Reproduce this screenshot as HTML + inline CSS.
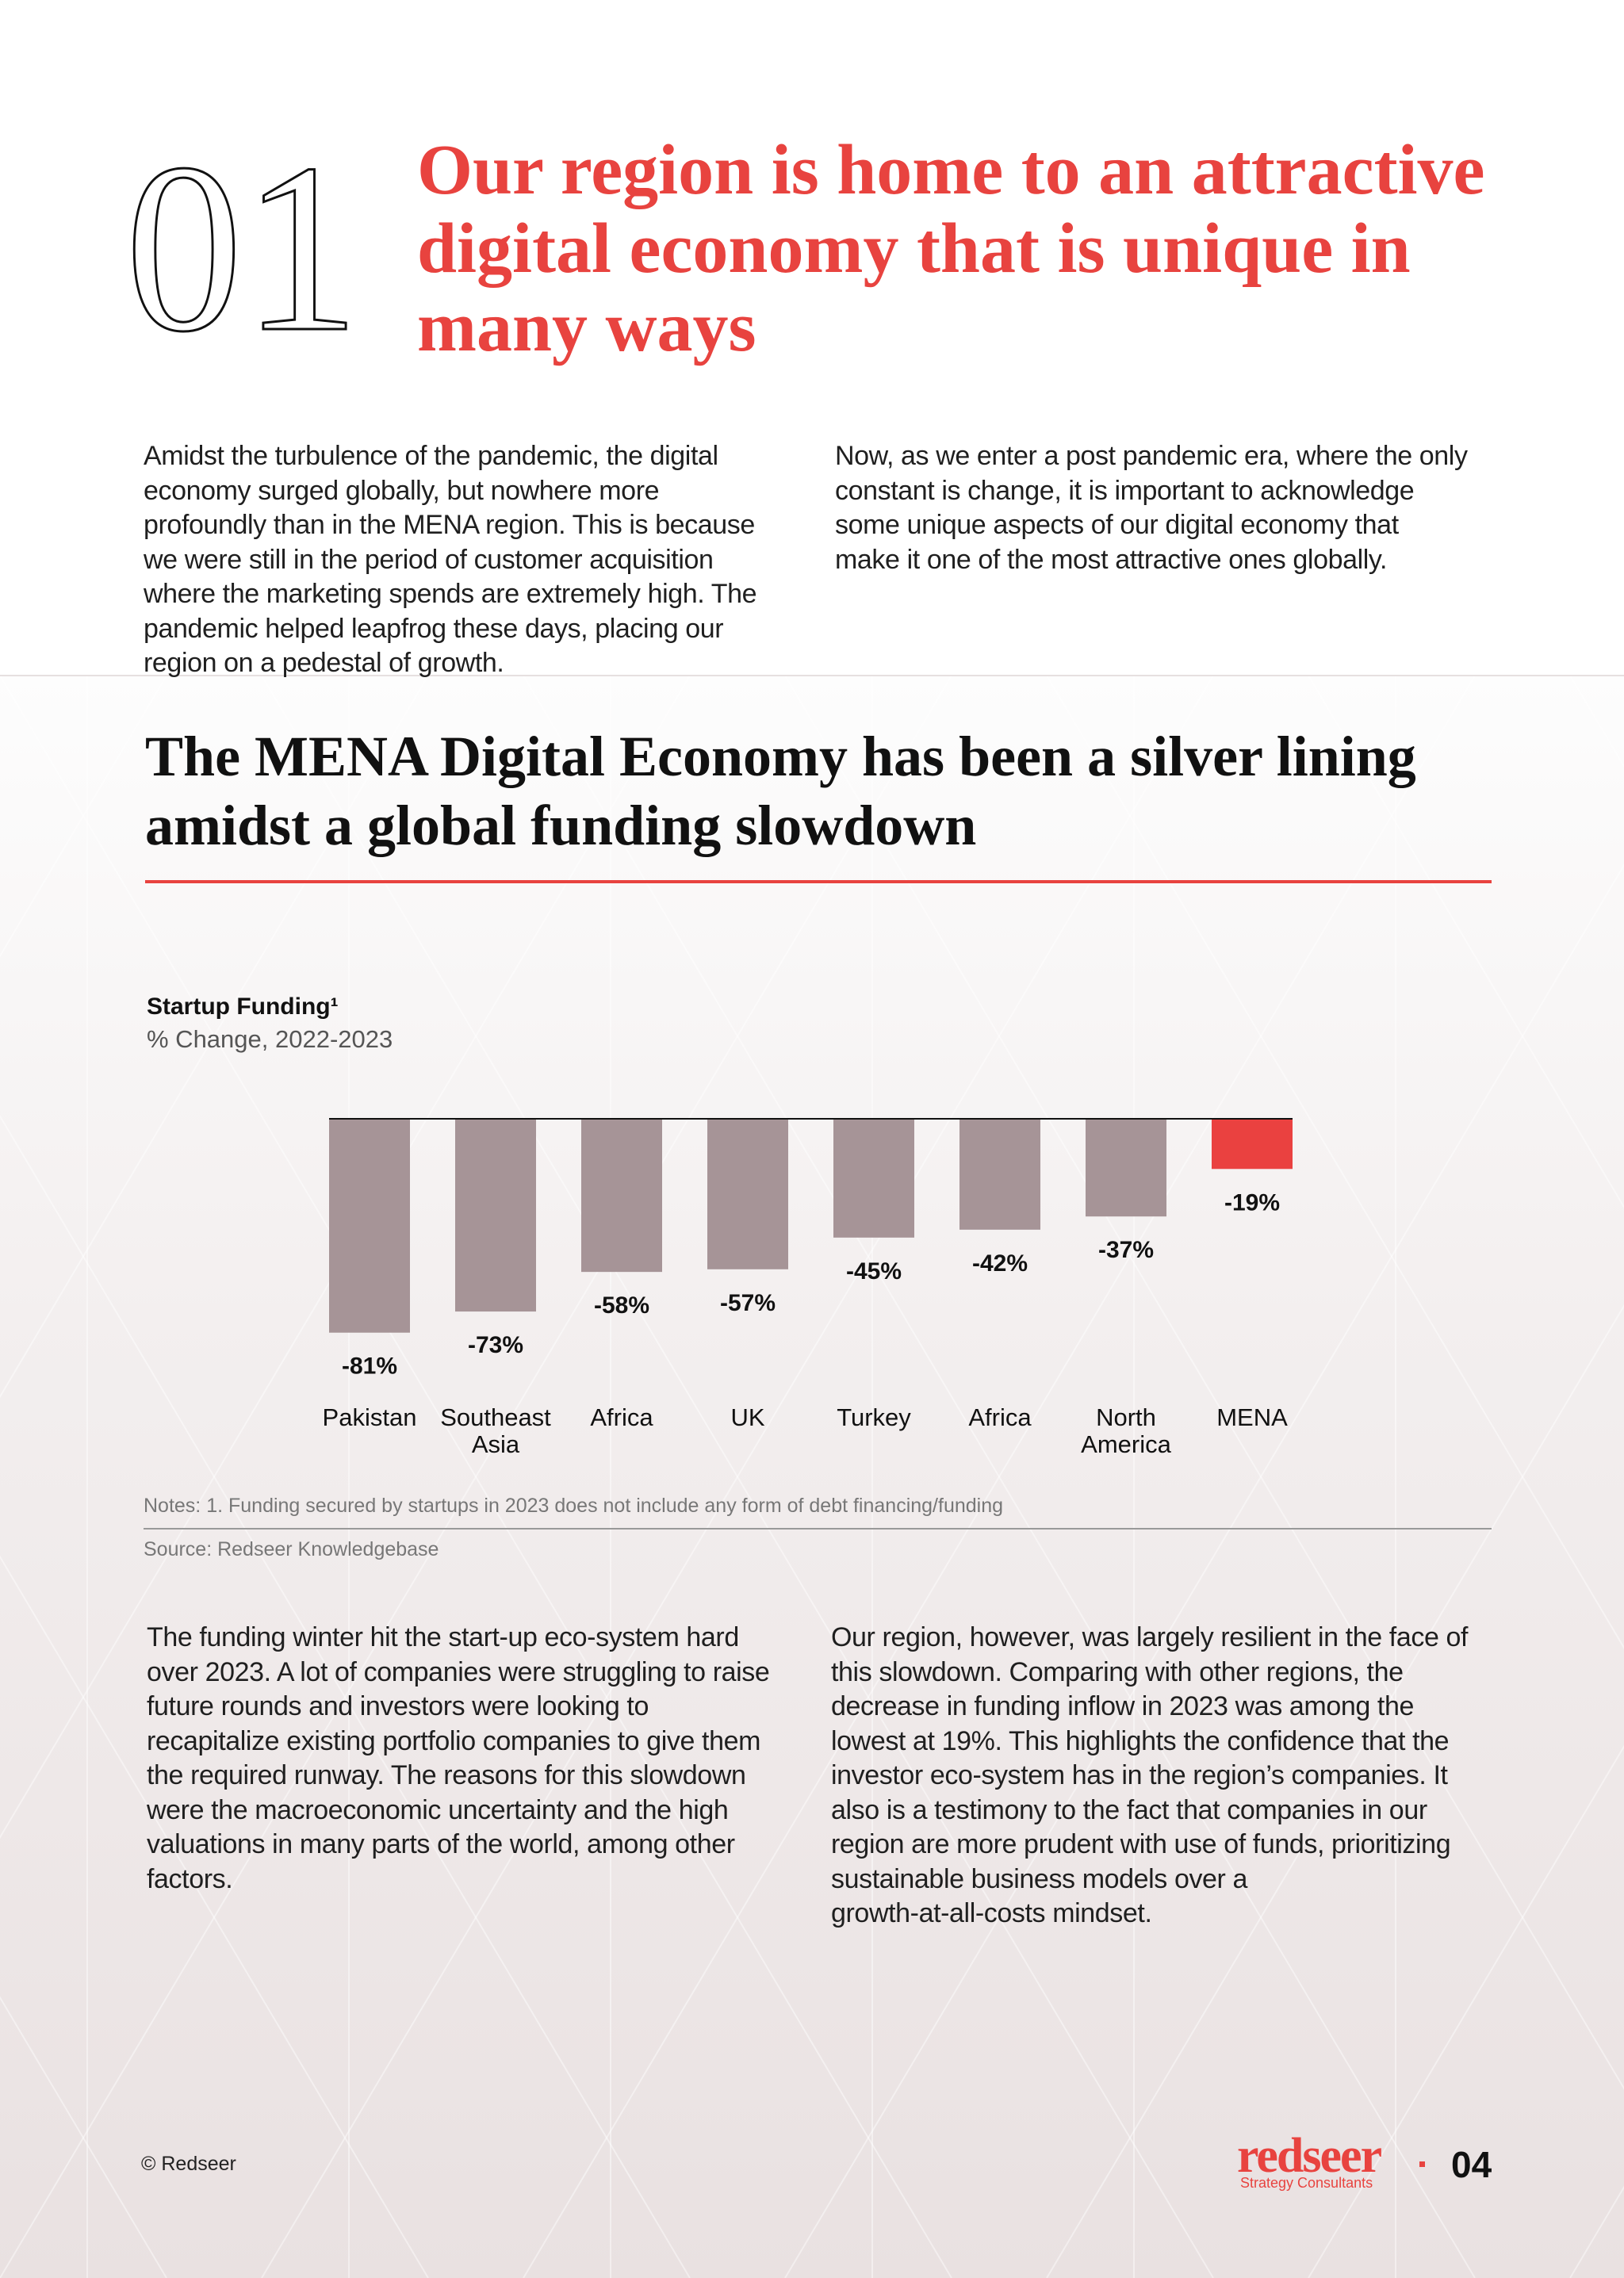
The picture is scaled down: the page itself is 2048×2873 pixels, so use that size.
<!DOCTYPE html>
<html><head><meta charset="utf-8"><style>
html,body{margin:0;padding:0}
body{width:2048px;height:2873px;position:relative;overflow:hidden;background:#fff;font-family:"Liberation Sans",sans-serif;color:#1a1a1a}
.abs{position:absolute;white-space:nowrap}
.serif{font-family:"Liberation Serif",serif}
.body{font-size:34px;line-height:43.5px;color:#1f1f1f;letter-spacing:-0.4px}
</style></head><body>
<div style="position:absolute;left:0;top:852px;width:2048px;height:2021px;background:linear-gradient(#fdfdfd,#f3efef 40%,#e9e1e1)"></div>
<svg class="abs" style="left:0;top:852px" width="2048" height="2021">
<g stroke="#ffffff" stroke-opacity="0.45" stroke-width="2" fill="none" id="pat"></g>
</svg>
<div style="position:absolute;left:0;top:851px;width:2048px;height:2px;background:#e6e0e0"></div>

<div class="abs serif" style="left:158px;top:160px;font-size:305px;line-height:305px;color:transparent;-webkit-text-stroke:3px #111;transform:scaleX(0.97);transform-origin:left top">01</div>
<div class="abs serif" style="left:526px;top:165px;font-size:90px;line-height:99px;font-weight:bold;color:#e8433f">Our region is home to an attractive<br>digital economy that is unique in<br>many ways</div>

<div class="abs body" style="left:181px;top:554px">Amidst the turbulence of the pandemic, the digital<br>economy surged globally, but nowhere more<br>profoundly than in the MENA region. This is because<br>we were still in the period of customer acquisition<br>where the marketing spends are extremely high. The<br>pandemic helped leapfrog these days, placing our<br>region on a pedestal of growth.</div>
<div class="abs body" style="left:1053px;top:554px">Now, as we enter a post pandemic era, where the only<br>constant is change, it is important to acknowledge<br>some unique aspects of our digital economy that<br>make it one of the most attractive ones globally.</div>

<div class="abs serif" style="left:183px;top:911px;font-size:72px;line-height:87px;font-weight:bold;color:#111">The MENA Digital Economy has been a silver lining<br>amidst a global funding slowdown</div>
<div style="position:absolute;left:183px;top:1110px;width:1698px;height:4px;background:#e8433f"></div>

<div class="abs" style="left:185px;top:1253px;font-size:30px;font-weight:bold;color:#111">Startup Funding¹</div>
<div class="abs" style="left:185px;top:1293px;font-size:31px;color:#555">% Change, 2022-2023</div>

<svg class="abs" style="left:0;top:0" width="2048" height="1900" id="chart"></svg>

<div class="abs" style="left:181px;top:1885px;font-size:25px;color:#777">Notes: 1. Funding secured by startups in 2023 does not include any form of debt financing/funding</div>
<div style="position:absolute;left:181px;top:1927px;width:1700px;height:2px;background:#999"></div>
<div class="abs" style="left:181px;top:1940px;font-size:25px;color:#777">Source: Redseer Knowledgebase</div>

<div class="abs body" style="left:185px;top:2044px">The funding winter hit the start-up eco-system hard<br>over 2023. A lot of companies were struggling to raise<br>future rounds and investors were looking to<br>recapitalize existing portfolio companies to give them<br>the required runway. The reasons for this slowdown<br>were the macroeconomic uncertainty and the high<br>valuations in many parts of the world, among other<br>factors.</div>
<div class="abs body" style="left:1048px;top:2044px">Our region, however, was largely resilient in the face of<br>this slowdown. Comparing with other regions, the<br>decrease in funding inflow in 2023 was among the<br>lowest at 19%. This highlights the confidence that the<br>investor eco-system has in the region’s companies. It<br>also is a testimony to the fact that companies in our<br>region are more prudent with use of funds, prioritizing<br>sustainable business models over a<br>growth-at-all-costs mindset.</div>

<div class="abs" style="left:178px;top:2715px;font-size:25px;color:#222">© Redseer</div>
<div class="abs serif" style="left:1560px;top:2688px;font-size:62px;line-height:62px;font-weight:bold;color:#e8433f;letter-spacing:-2px">redseer</div>
<div class="abs" style="left:1564px;top:2743px;font-size:18px;color:#e8433f">Strategy Consultants</div>
<div style="position:absolute;left:1790px;top:2726px;width:7px;height:7px;background:#e8433f"></div>
<div class="abs" style="left:1830px;top:2703px;font-size:46px;font-weight:bold;color:#111">04</div>

<script>
const categories = [["Pakistan"],["Southeast","Asia"],["Africa"],["UK"],["Turkey"],["Africa"],["North","America"],["MENA"]];
const values = [-81,-73,-58,-57,-45,-42,-37,-19];
const valueLabels = ["-81%","-73%","-58%","-57%","-45%","-42%","-37%","-19%"];
const highlight = [false,false,false,false,false,false,false,true];

const NS="http://www.w3.org/2000/svg";
const svg=document.getElementById('chart');
const x0=415, step=159, bw=102, axisY=1411, pxPer=3.33;
const xPos=i=>x0+i*step;
const yPos=v=>axisY-v*pxPer;
function mk(t,a){const e=document.createElementNS(NS,t);for(const k in a)e.setAttribute(k,a[k]);svg.appendChild(e);return e;}
values.forEach((v,i)=>{
  const r=mk('rect',{x:xPos(i),y:axisY,width:bw,height:yPos(v)-axisY,fill:highlight[i]?'#ea4140':'#a69497'});
  
  
  const t=mk('text',{x:xPos(i)+bw/2,y:yPos(v)+52,'text-anchor':'middle','font-size':30,'font-weight':'bold',fill:'#111','font-family':'Liberation Sans, sans-serif'});
  t.textContent=valueLabels[i];
  
  
  categories[i].forEach((ln,j)=>{
    const c=mk('text',{x:xPos(i)+bw/2,y:1798+j*34,'text-anchor':'middle','font-size':31,fill:'#111','font-family':'Liberation Sans, sans-serif'});
    c.textContent=ln;
    
    
  });
});
const ax=mk('line',{x1:x0,x2:xPos(values.length-1)+bw,y1:axisY,y2:axisY,stroke:'#111','stroke-width':2});



const pg=document.getElementById('pat');
let s='';
for(let k=-10;k<20;k++){const x=k*330;
 s+=`<line x1="${x}" y1="0" x2="${x+1200}" y2="2021"/><line x1="${x+1200}" y1="0" x2="${x}" y2="2021"/>`;}
for(let k=0;k<8;k++){const x=110+k*330; s+=`<line x1="${x}" y1="0" x2="${x}" y2="2021"/>`;}
pg.innerHTML=s;
</script>
</body></html>
